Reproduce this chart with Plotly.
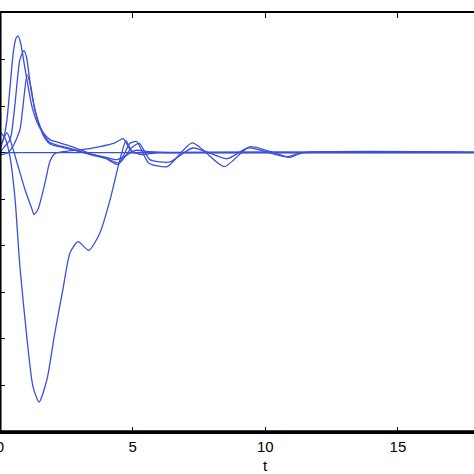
import plotly.graph_objects as go

# Curve A: deep negative excursion
tA = [0, 0.2, 0.38, 0.57, 0.75, 1.02, 1.24, 1.47, 1.77, 2.07, 2.37, 2.64, 2.94, 3.35, 3.77, 4.15, 4.52, 4.75, 4.94, 5.3, 6.0, 20]
yA = [0.45, 0.3, -0.1, -1.01, -2.45, -4.01, -5.02, -5.36, -4.87, -3.86, -2.94, -2.15, -1.91, -2.10, -1.72, -1.01, -0.15, 0.26, 0.06, -0.04, 0.0, 0.0]

# Curve B: small negative dip, slow positive drift
tB = [0, 0.15, 0.26, 0.38, 0.64, 0.94, 1.21, 1.28, 1.43, 1.70, 1.88, 2.07, 2.37, 3.02, 3.77, 4.33, 4.64, 4.82, 4.98, 5.4, 20]
yB = [0.06, 0.32, 0.43, 0.28, -0.21, -0.79, -1.22, -1.33, -1.22, -0.64, -0.19, -0.02, 0.02, 0.06, 0.13, 0.21, 0.30, 0.15, 0.0, 0.0, 0.0]

# Curve C: highest positive peak, then oscillation
tC = [0, 0.13, 0.26, 0.38, 0.5, 0.6, 0.68, 0.78, 0.9, 1.05, 1.2, 1.4, 1.6, 1.88, 2.2, 2.6, 3.4, 4.0, 4.45, 4.9, 5.15, 5.6, 6.3, 7.25, 8.45, 9.42, 10.93, 11.4, 12.5, 20]
yC = [0.15, 0.3, 0.7, 1.42, 2.15, 2.45, 2.51, 2.35, 1.95, 1.45, 1.0, 0.65, 0.45, 0.28, 0.22, 0.15, -0.02, -0.13, -0.25, 0.2, 0.24, -0.22, -0.3, 0.21, -0.3, 0.13, -0.1, 0.0, 0.02, 0.0]

# Curve D: second positive peak
tD = [0, 0.2, 0.35, 0.44, 0.57, 0.75, 0.9, 1.0, 1.17, 1.4, 1.6, 1.88, 2.3, 2.6, 3.4, 4.0, 4.5, 4.95, 5.25, 5.65, 6.4, 7.27, 8.56, 9.35, 10.8, 11.4, 20]
yD = [0.0, 0.15, 0.25, 0.43, 1.07, 2.0, 2.19, 2.05, 1.35, 0.75, 0.45, 0.22, 0.14, 0.1, -0.04, -0.12, -0.22, 0.1, 0.2, -0.15, -0.2, 0.1, -0.13, 0.1, -0.09, 0.0, 0.0]

# Curve E: third positive peak
tE = [0, 0.3, 0.5, 0.75, 0.88, 1.02, 1.15, 1.3, 1.5, 1.7, 1.9, 2.3, 2.6, 3.4, 4.0, 4.4, 4.8, 5.1, 5.65, 6.5, 20]
yE = [-0.05, 0.0, 0.15, 0.49, 1.07, 1.67, 1.45, 0.95, 0.55, 0.3, 0.18, 0.12, 0.08, -0.03, -0.1, -0.15, -0.05, 0.05, 0.02, 0.0, 0.0]

# Curve F: state that stays at zero
tF = [0, 20]
yF = [0, 0]

x_ticks = [0, 5, 10, 15, 20]
y_ticks = [-6, -5, -4, -3, -2, -1, 0, 1, 2, 3]

color = "#3a50d9"
fig = go.Figure()
for t, y in [(tF, yF), (tA, yA), (tB, yB), (tC, yC), (tD, yD), (tE, yE)]:
    fig.add_trace(go.Scatter(x=t, y=y, mode="lines",
                             line=dict(color=color, width=1.3, shape="spline", smoothing=0.6),
                             showlegend=False, hoverinfo="skip"))

font = dict(family="Liberation Sans, Arial, sans-serif", size=15, color="black")
frame = dict(color="black", width=2)
fig.update_layout(
    width=474, height=474,
    margin=dict(l=0, r=0, t=13, b=42, autoexpand=False),
    paper_bgcolor="white", plot_bgcolor="white",
    font=font,
    xaxis=dict(range=[0, 474 / 26.53], tickvals=x_ticks, ticks="inside", ticklen=5,
               tickcolor="black", tickwidth=1, showline=True, linecolor="black", linewidth=2,
               mirror="ticks", showgrid=False, zeroline=False, automargin=False,
               ticklabeloverflow="allow"),
    yaxis=dict(range=[-6, 3], tickvals=y_ticks, ticks="inside", ticklen=5,
               tickcolor="black", tickwidth=1, showline=True, linecolor="black", linewidth=2,
               mirror=False, showgrid=False, zeroline=False, automargin=False),
    shapes=[
        dict(type="line", xref="paper", yref="y", x0=0, x1=1, y0=-5.985, y1=-5.985,
             line=frame, layer="above"),
        dict(type="line", xref="x", yref="paper", x0=0.02, x1=0.02, y0=0, y1=1,
             line=frame, layer="above"),
    ],
    annotations=[dict(text="t", x=10, xref="x", y=-0.079, yref="paper",
                      showarrow=False, font=font, yanchor="middle")],
)
fig.write_html("out.html", config={"displayModeBar": False},
               post_script="document.body.style.margin='0px';document.body.style.overflow='hidden';")
